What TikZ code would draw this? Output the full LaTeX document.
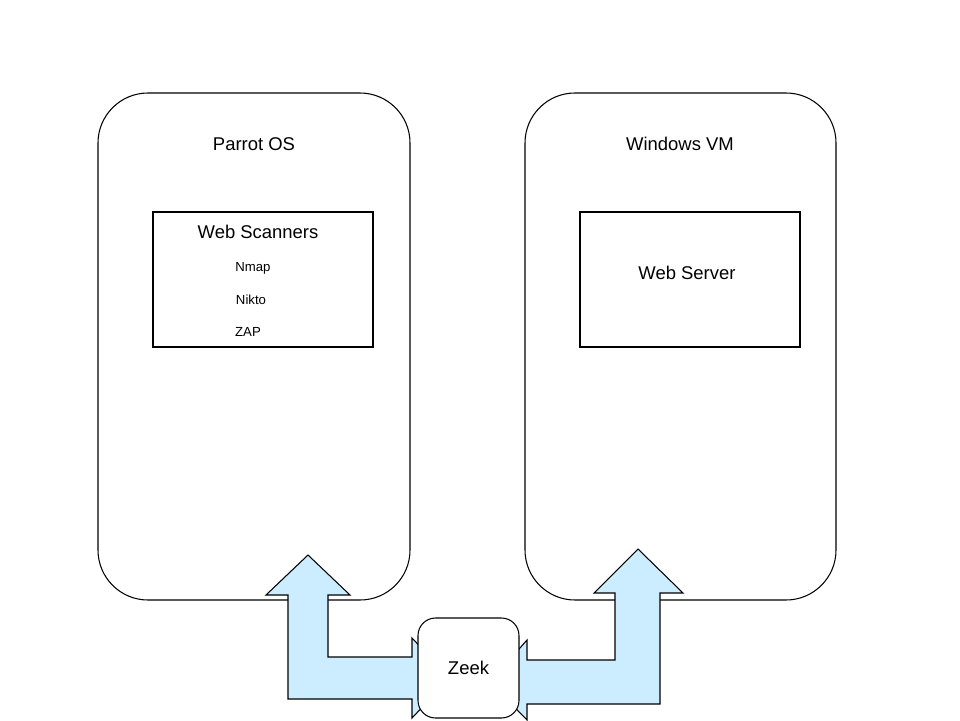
\documentclass[tikz,border=0pt]{standalone}
\usepackage{fontspec}
\setmainfont{Liberation Sans}
\usetikzlibrary{positioning}

\begin{document}
\begin{tikzpicture}[x=0.02cm, y=-0.02cm]
\tikzset{host/.style =
        {
            draw=black,
            rounded corners=1cm,
            line width=0.6pt
        }
}

\tikzset{tool box/.style =
        {
            draw=black,
            line width=0.6pt
        }
}

\tikzset{flow/.style =
        {
            draw=black,
            fill=blue!35!cyan!20!white,
            line width=0.6pt
        }
}

\tikzset{zeek/.style =
        {
            draw=black,
            fill=white,
            rounded corners=0.35cm,
            line width=0.6pt,
            minimum width=2.02cm,
            minimum height=2cm,
            font=\fontsize{10.5}{12}\selectfont
        }
}
	\useasboundingbox (0,0) rectangle (960,720);

	% hosts
	\draw[host] (98,93) rectangle (410,600);
	\draw[host] (525,93) rectangle (836,600);
	\node[font=\fontsize{10.5}{12}\selectfont] (parrot) at (254,144) {Parrot OS};
	\node[font=\fontsize{10.5}{12}\selectfont] (windows) at (680,144) {Windows VM};

	% tools
	\draw[tool box] (153,212) rectangle (373,347);
	\draw[tool box] (580,212) rectangle (800,347);
	\node[font=\fontsize{10.5}{12}\selectfont] (scanners) at (258,232) {Web Scanners};
	\node[font=\fontsize{7.5}{9}\selectfont] (nmap) at (253,268) {Nmap};
	\node[font=\fontsize{7.5}{9}\selectfont] (nikto) at (251,300) {Nikto};
	\node[font=\fontsize{7.5}{9}\selectfont] (zap) at (248,332) {ZAP};
	\node[font=\fontsize{10.5}{12}\selectfont] (server) at (687,273) {Web Server};

	% traffic arrows
	\draw[flow] (308,555) -- (350,595) -- (328,595) -- (328,657) -- (412,657)
		-- (412,638) -- (450,678) -- (412,718) -- (412,699) -- (288,699)
		-- (288,595) -- (266,595) -- cycle;
	\draw[flow] (638,549) -- (683,593) -- (660,593) -- (660,704) -- (527,704)
		-- (527,720) -- (490,682) -- (527,640) -- (527,660) -- (615,660)
		-- (615,593) -- (594,593) -- cycle;

	\node[zeek] (zeek) at (468.5,668) {Zeek};
\end{tikzpicture}
\end{document}
